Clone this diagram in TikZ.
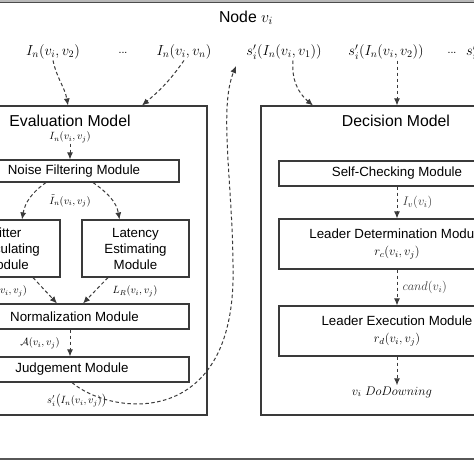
\RequirePackage{fix-cm}
\documentclass[tikz,border=0pt]{standalone}
\usepackage{amsmath}
\usepackage{fontspec}
\setmainfont{Liberation Sans}
\usetikzlibrary{calc,arrows.meta,positioning}
\definecolor{lineGray}{RGB}{58,58,58}
\newcommand{\modfont}{\fontsize{13.3}{16}\selectfont}
\newcommand{\ttlfont}{\fontsize{15.8}{18}\selectfont}
\newcommand{\toplbl}{\fontsize{14.5}{16}\selectfont}
\newcommand{\smlbl}{\fontsize{10.5}{12}\selectfont}
\newcommand{\declbl}{\fontsize{12.5}{14}\selectfont}

\begin{document}
\begin{tikzpicture}[x=1pt,y=1pt,
  box/.style={draw=lineGray, line width=1.1pt, inner sep=0pt, align=center, font=\modfont},
  lbl/.style={inner sep=1pt},
  flow/.style={-{Latex[length=7pt,width=6pt]}, line width=1pt, dash pattern=on 3.5pt off 2.5pt, lineGray}]
\useasboundingbox (0,0) rectangle (474,-474);
\clip (0,0) rectangle (474,-474);
\fill[white] (0,0) rectangle (474,-474);

% outer frame
\fill[gray!55] (0,0) rectangle (474,-2);
\draw[black!70, line width=0.9pt] (0,-2.6) -- (474,-2.6);
\draw[lineGray!85, line width=2pt] (0,-458.5) -- (474,-458.5);

\node[font=\ttlfont] (nodeTitle) at (246,-18) {Node $v_i$};

% inputs on top
\node[lbl, font=\toplbl] (inTwo) at (53,-52) {$I_n(v_i,v_2)$};
\node[lbl, font=\smlbl] (dotsA) at (123,-53) {...};
\node[lbl, font=\toplbl] (inN) at (184,-52) {$I_n(v_i,v_n)$};
\node[lbl, font=\toplbl] (sOne) at (284,-52) {$s'_i(I_n(v_i,v_1))$};
\node[lbl, font=\toplbl] (sTwo) at (386,-52) {$s'_i(I_n(v_i,v_2))$};
\node[lbl, font=\smlbl] (dotsB) at (452,-53) {...};
\node[lbl, font=\toplbl, anchor=west] (sN) at (465,-52) {$s'_i(I_n(v_i,v_n))$};

% Evaluation Model
\node[box, minimum width=267pt, minimum height=309pt] (evalBox) at (73.5,-260.5) {};
\node[font=\ttlfont] (evalTitle) at (70,-121) {Evaluation Model};
\node[lbl, font=\smlbl] (inJ) at (70,-137) {$I_n(v_i,v_j)$};
\node[box, minimum width=210pt, minimum height=22pt] (noise) at (74,-171) {Noise Filtering Module};
\node[lbl, font=\smlbl] (inTil) at (70,-201) {$\tilde{I}_n(v_i,v_j)$};
\node[box, minimum width=106pt, minimum height=57pt] (jitter) at (7,-248.5) {Jitter\\Calculating\\Module};
\node[box, minimum width=107pt, minimum height=57pt] (latency) at (135.5,-248.5) {Latency\\Estimating\\Module};
\node[lbl, font=\smlbl] (lJ) at (5,-291) {$L_J(v_i,v_j)$};
\node[lbl, font=\smlbl] (lR) at (135,-291) {$L_R(v_i,v_j)$};
\node[box, minimum width=229pt, minimum height=25pt] (norm) at (74.5,-316.5) {Normalization Module};
\node[lbl, font=\smlbl] (aJ) at (40,-343) {$\mathcal{A}(v_i,v_j)$};
\node[box, minimum width=234pt, minimum height=25pt] (judge) at (72,-369.5) {Judgement Module};
\node[lbl, font=\smlbl] (sJ) at (77,-401) {$s'_i\bigl(I_n(v_i,v_j)\bigr)$};

% Decision Model
\node[box, minimum width=272pt, minimum height=309pt] (decBox) at (397,-260.5) {};
\node[font=\ttlfont] (decTitle) at (396,-121) {Decision Model};
\node[box, minimum width=236pt, minimum height=25pt] (selfChk) at (397,-173.5) {Self-Checking Module};
\node[box, minimum width=236pt, minimum height=50pt] (leadDet) at (397,-244) {Leader Determination Module\\[1pt]{\declbl $r_c(v_i,v_j)$}};
\node[box, minimum width=236pt, minimum height=50pt] (leadExe) at (397,-331) {Leader Execution Module\\[1pt]{\declbl $r_d(v_i,v_j)$}};
\node[lbl, font=\declbl] (doDown) at (392,-392) {$v_i\ \mathnormal{DoDowning}$};

\coordinate (sUp) at (236,-66);

% connectors into the models
\draw[flow] (inTwo.south) to[out=-78,in=100] ([xshift=-5.5pt]evalBox.north);
\draw[flow] (inN.south) to[out=-125,in=40] ([xshift=68.5pt]evalBox.north);
\draw[flow] ([xshift=9pt]sOne.south) to[out=-95,in=140] ([xshift=-84pt]decBox.north);
\draw[flow] (sTwo.south -| decBox.north) -- (decBox.north);

% evaluation flow
\draw[flow] (inJ.south) -- (noise.north -| inJ.south);
\draw[flow] ([xshift=-28pt]noise.south) to[out=-145,in=80] ([xshift=15pt]jitter.north);
\draw[flow] ([xshift=19pt]noise.south) to[out=-35,in=100] ([xshift=-16pt]latency.north);
\draw[flow] ([xshift=26pt]jitter.south) -- ([xshift=-17.5pt]norm.north);
\draw[flow] ([xshift=-27.5pt]latency.south) -- ([xshift=8.5pt]norm.north);
\draw[flow] ([xshift=-4.5pt]norm.south) -- ([xshift=-2pt]judge.north);
\draw[flow] (judge.south) .. controls (110,-415) and (230,-430) .. (233,-280)
  .. controls (234,-190) and (218,-110) .. (sUp);

% decision flow
\draw[flow] (selfChk) -- (leadDet) node[midway, right=4pt, lbl, font=\declbl] {$I_v(v_i)$};
\draw[flow] (leadDet) -- (leadExe) node[midway, right=4pt, lbl, font=\declbl] {$cand(v_i)$};
\draw[flow] (leadExe) -- (doDown.north -| leadExe.south);
\end{tikzpicture}
\end{document}
